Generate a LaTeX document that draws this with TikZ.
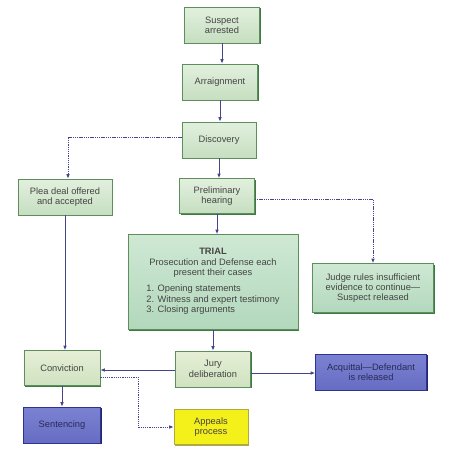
\documentclass[tikz,border=0pt]{standalone}
\usepackage{fontspec}
\setmainfont{Liberation Sans}
\usetikzlibrary{arrows.meta,shadows,calc}
\definecolor{gtop}{HTML}{E2F0DE}
\definecolor{gbot}{HTML}{C6DEC0}
\definecolor{ttop}{HTML}{CFE8D4}
\definecolor{tbot}{HTML}{B2D8BC}
\definecolor{ytop}{HTML}{E6EFD6}
\definecolor{ybot}{HTML}{CFE2C0}
\definecolor{boxedge}{HTML}{5E8E5C}
\definecolor{gshadow}{HTML}{3E7A44}
\definecolor{btop}{HTML}{7C82D2}
\definecolor{bbot}{HTML}{666CC2}
\definecolor{bedge}{HTML}{2E3290}
\definecolor{bshadow}{HTML}{23266E}
\definecolor{yfill}{HTML}{F4F01A}
\definecolor{yedge}{HTML}{B0A840}
\definecolor{arr}{HTML}{45458C}
\definecolor{txt}{HTML}{444444}
\definecolor{btxt}{HTML}{2A2A55}
\begin{document}
\begin{tikzpicture}[x=1pt,y=-1pt,
  box/.style={draw=boxedge, line width=0.6pt, top color=gtop, bottom color=gbot,
    align=center, font=\fontsize{9.3}{10.4}\selectfont, text=txt, inner sep=2pt,
    drop shadow={shadow xshift=1.4pt, shadow yshift=-1.4pt, fill=gshadow, opacity=1}},
  tbox/.style={box, top color=ttop, bottom color=tbot},
  ybox/.style={box, top color=ytop, bottom color=ybot},
  bluebox/.style={box, draw=bedge, top color=btop, bottom color=bbot, text=btxt,
    drop shadow={shadow xshift=1.4pt, shadow yshift=-1.4pt, fill=bshadow, opacity=1}},
  yelbox/.style={box, draw=yedge, top color=yfill, bottom color=yfill, text=txt,
    drop shadow={shadow xshift=1pt, shadow yshift=-1pt, fill=yedge, opacity=1}},
  flow/.style={draw=arr, line width=1pt, -{Latex[length=4.5pt,width=3.6pt]}},
  dflow/.style={flow, dash pattern=on 1.3pt off 0.9pt}]
\fill[white] (0,0) rectangle (474,459);
\useasboundingbox (0,0) rectangle (474,459);

\node[box, minimum width=75, minimum height=36] (sus) at (222,25) {Suspect\\arrested};
\node[box, minimum width=75, minimum height=36] (arr) at (220,82) {Arraignment};
\node[box, minimum width=74, minimum height=36] (dis) at (219,140) {Discovery};
\node[box, minimum width=94, minimum height=36] (plea) at (65,197) {Plea deal offered\\and accepted};
\node[box, minimum width=75, minimum height=35] (pre) at (217,196) {Preliminary\\hearing};
\node[tbox, minimum width=170, minimum height=95, font=\fontsize{9.3}{10.8}\selectfont] (trial) at (213,282)
  {\textbf{TRIAL}\\Prosecution and Defense each\\present their cases\\[5pt]
   \begin{tabular}{@{}l@{}}1. Opening statements\\2. Witness and expert testimony\\3. Closing arguments\end{tabular}};
\node[tbox, minimum width=121, minimum height=49] (judge) at (373,288)
  {Judge rules insufficient\\evidence to continue---\\Suspect released};
\node[ybox, minimum width=76, minimum height=35] (conv) at (62,368) {Conviction};
\node[ybox, minimum width=75, minimum height=36] (jury) at (213,369) {Jury\\deliberation};
\node[bluebox, minimum width=111, minimum height=36] (acq) at (371,372) {Acquittal---Defendant\\is released};
\node[bluebox, minimum width=77, minimum height=36] (sent) at (62,425) {Sentencing};
\node[yelbox, minimum width=74, minimum height=35] (app) at (211,427) {Appeals\\process};

\draw[flow] (sus.south) -- (sus.south |- arr.north);
\draw[flow] (arr.south) -- (arr.south |- dis.north);
\draw[flow] (dis.south) -- (dis.south |- pre.north);
\draw[flow] (pre.south) -- (pre.south |- trial.north);
\draw[flow] (trial.south) -- (trial.south |- jury.north);
\draw[flow] (plea.south) -- (plea.south |- conv.north);
\draw[flow] (conv.south) -- (conv.south |- sent.north);
\draw[flow] (jury.west |- 0,370) -- (conv.east |- 0,370);
\draw[flow] (jury.east |- 0,373) -- (acq.west |- 0,373);
\draw[dflow] (dis.west |- 0,137) -| (68,0 |- plea.north);
\draw[dflow] (pre.east |- 0,199) -| (judge.north);
\coordinate (cv) at (138,377);
\draw[dflow] (conv.east |- cv) -- (cv) |- (app.west);
\end{tikzpicture}
\end{document}
